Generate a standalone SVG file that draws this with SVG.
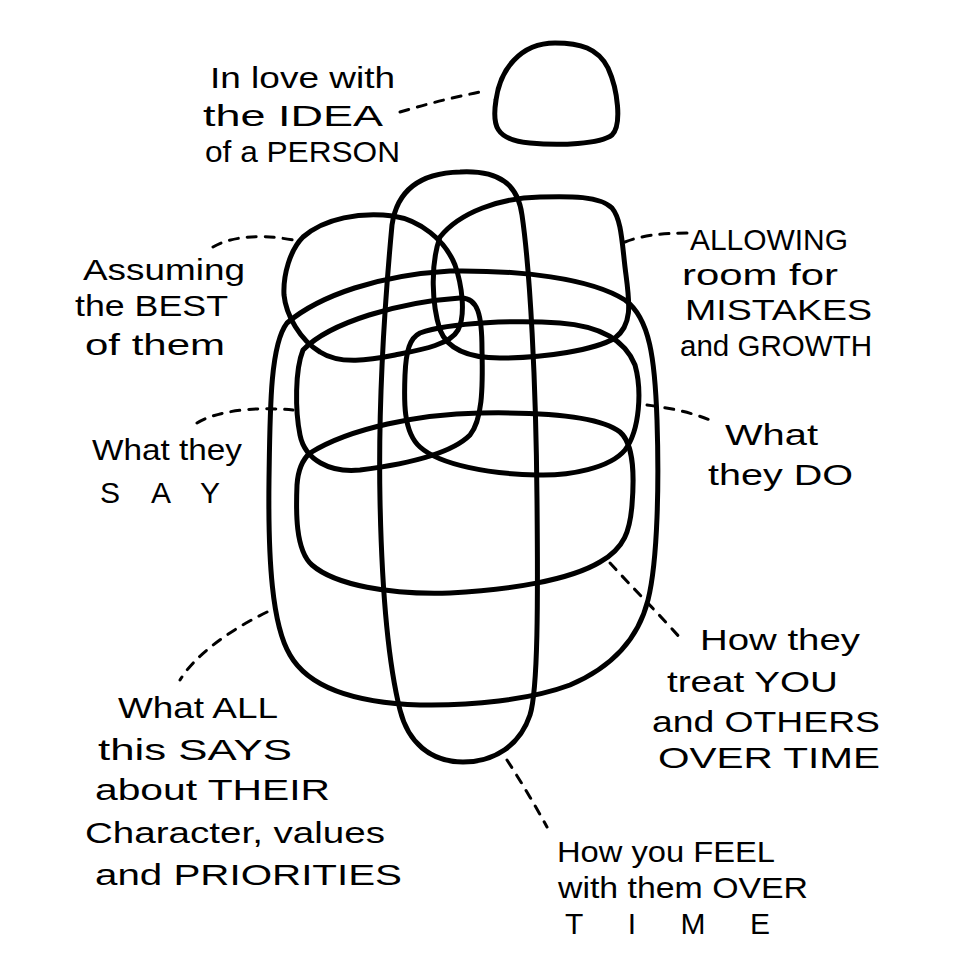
<svg xmlns="http://www.w3.org/2000/svg" width="960" height="960" viewBox="0 0 960 960">
<style>
.shape{fill:none;stroke:#000;stroke-width:5;stroke-linejoin:round;stroke-linecap:round}
.dash{fill:none;stroke:#000;stroke-width:3;stroke-dasharray:9 9;stroke-linecap:round}
text{font-family:"Liberation Sans","DejaVu Sans",sans-serif;font-size:30px;fill:#000}
</style>
<rect width="960" height="960" fill="#fff"/>
<g id="connectors">
<path class="dash" d="M 400 112 Q 440 100 480 92"/>
<path class="dash" d="M 213 247 C 225 240 250 232 293 240"/>
<path class="dash" d="M 625 242 C 640 236 660 233 687 233"/>
<path class="dash" d="M 197 423 C 215 412 250 406 293 410"/>
<path class="dash" d="M 647 405 C 670 408 690 412 710 420"/>
<path class="dash" d="M 610 563 C 630 585 660 615 682 640"/>
<path class="dash" d="M 267 612 C 230 630 195 655 180 680"/>
<path class="dash" d="M 507 760 C 520 780 535 805 547 827"/>
</g>
<g id="idea">
<path class="shape" d="M 555 43 C 520 43 500 70 496 100 C 492 125 495 140 530 143 C 560 146 600 144 612 135 C 622 125 618 90 608 68 C 598 48 580 43 555 43 Z"/>
<text x="210" y="88" textLength="185" lengthAdjust="spacingAndGlyphs">In love with</text>
<text x="203" y="126" textLength="180" lengthAdjust="spacingAndGlyphs">the IDEA</text>
<text x="205" y="162" textLength="195" lengthAdjust="spacingAndGlyphs">of a PERSON</text>
</g>
<g id="best">
<path class="shape" d="M 303 237 C 325 218 360 212 393 216 C 420 220 445 240 455 265 C 462 285 466 315 458 330 C 450 345 420 350 395 355 C 370 360 340 365 320 352 C 300 340 286 315 284 295 C 283 275 290 250 303 237 Z"/>
<text x="83" y="280" textLength="162" lengthAdjust="spacingAndGlyphs">Assuming</text>
<text x="75" y="316" textLength="153" lengthAdjust="spacingAndGlyphs">the BEST</text>
<text x="85" y="355" textLength="140" lengthAdjust="spacingAndGlyphs">of them</text>
</g>
<g id="character">
<path class="shape" d="M 287 323 C 320 295 380 275 450 271 C 520 270 590 278 625 300 C 650 318 655 360 657 420 C 659 480 658 560 648 600 C 638 640 610 668 570 685 C 530 700 470 706 420 705 C 360 703 310 690 290 655 C 272 625 268 560 269 480 C 270 410 270 345 287 323 Z"/>
<text x="118" y="718" textLength="160" lengthAdjust="spacingAndGlyphs">What ALL</text>
<text x="98" y="760" textLength="194" lengthAdjust="spacingAndGlyphs">this SAYS</text>
<text x="95" y="800" textLength="235" lengthAdjust="spacingAndGlyphs">about THEIR</text>
<text x="85" y="843" textLength="300" lengthAdjust="spacingAndGlyphs">Character, values</text>
<text x="95" y="885" textLength="307" lengthAdjust="spacingAndGlyphs">and PRIORITIES</text>
</g>
<g id="feel">
<path class="shape" d="M 460 172 C 500 170 518 185 522 215 C 530 270 536 380 537 500 C 538 600 538 690 530 715 C 520 745 495 762 463 762 C 430 762 408 742 400 710 C 390 670 382 600 380 500 C 378 400 385 300 392 225 C 397 190 420 173 460 172 Z"/>
<text x="557" y="862" textLength="218" lengthAdjust="spacingAndGlyphs">How you FEEL</text>
<text x="558" y="898" textLength="250" lengthAdjust="spacingAndGlyphs">with them OVER</text>
<text x="565" y="934" textLength="205">TIME</text>
</g>
<g id="allowing">
<path class="shape" d="M 440 237 C 460 212 500 198 540 197 C 570 196 600 196 612 208 C 622 220 622 245 626 275 C 630 305 632 325 615 338 C 595 350 545 358 500 358 C 470 358 448 350 440 330 C 432 305 430 265 440 237 Z"/>
<text x="690" y="250" textLength="158" lengthAdjust="spacingAndGlyphs">ALLOWING</text>
<text x="682" y="285" textLength="156" lengthAdjust="spacingAndGlyphs">room for</text>
<text x="685" y="320" textLength="187" lengthAdjust="spacingAndGlyphs">MISTAKES</text>
<text x="680" y="356" textLength="192" lengthAdjust="spacingAndGlyphs">and GROWTH</text>
</g>
<g id="say">
<path class="shape" d="M 303 350 C 330 322 400 302 460 298 C 478 297 482 315 482 350 C 483 390 482 420 470 435 C 450 455 400 465 360 470 C 330 473 305 460 300 435 C 295 410 295 370 303 350 Z"/>
<text x="92" y="460" textLength="150" lengthAdjust="spacingAndGlyphs">What they</text>
<text x="100" y="503" textLength="120">SAY</text>
</g>
<g id="do">
<path class="shape" d="M 420 333 C 450 322 520 320 560 323 C 600 326 625 340 635 365 C 642 390 640 430 625 450 C 610 468 570 476 537 475 C 490 474 440 465 420 447 C 403 432 404 400 405 375 C 406 350 410 338 420 333 Z"/>
<text x="725" y="445" textLength="93" lengthAdjust="spacingAndGlyphs">What</text>
<text x="708" y="485" textLength="145" lengthAdjust="spacingAndGlyphs">they DO</text>
</g>
<g id="treat">
<path class="shape" d="M 310 453 C 350 428 420 414 480 413 C 540 412 600 416 620 432 C 635 445 634 480 632 505 C 630 530 625 548 600 562 C 570 580 510 590 450 593 C 390 595 335 585 312 565 C 295 550 296 510 297 485 C 298 470 302 460 310 453 Z"/>
<text x="700" y="650" textLength="160" lengthAdjust="spacingAndGlyphs">How they</text>
<text x="667" y="692" textLength="171" lengthAdjust="spacingAndGlyphs">treat YOU</text>
<text x="652" y="732" textLength="228" lengthAdjust="spacingAndGlyphs">and OTHERS</text>
<text x="658" y="768" textLength="222" lengthAdjust="spacingAndGlyphs">OVER TIME</text>
</g>
</svg>
